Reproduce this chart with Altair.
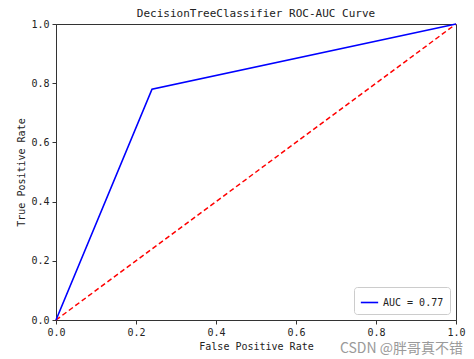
import altair as alt
import pandas as pd

fpr = [0.0, 0.24, 1.0]
tpr = [0.0, 0.78, 1.0]
auc_label = "AUC = 0.77"
diag_x = [0.0, 1.0]
diag_y = [0.0, 1.0]
ticks = [0.0, 0.2, 0.4, 0.6, 0.8, 1.0]

roc = pd.DataFrame({"fpr": fpr, "tpr": tpr, "series": [auc_label] * len(fpr), "order": range(len(fpr))})
diag = pd.DataFrame({"fpr": diag_x, "tpr": diag_y})

FONT = "DejaVu Sans Mono"

xs = alt.Scale(domain=[0, 1], nice=False)
ys = alt.Scale(domain=[0, 1], nice=False)
xax = alt.Axis(values=ticks, format=".1f", title="False Positive Rate", grid=False, labelFlush=False)
yax = alt.Axis(values=ticks, format=".1f", title="True Positive Rate", grid=False, labelFlush=False)

roc_line = alt.Chart(roc).mark_line(strokeWidth=1.6).encode(
    x=alt.X("fpr:Q", scale=xs, axis=xax),
    y=alt.Y("tpr:Q", scale=ys, axis=yax),
    order="order:Q",
    color=alt.Color("series:N", scale=alt.Scale(domain=[auc_label], range=["#0000ff"]),
                    legend=alt.Legend(title=None, orient="bottom-right", symbolType="stroke",
                                      symbolStrokeWidth=1.6, symbolSize=300,
                                      strokeColor="#cccccc", fillColor="white", padding=6,
                                      cornerRadius=3, labelFont=FONT, labelFontSize=10,
                                      labelColor="#222", offset=6)),
)

diag_line = alt.Chart(diag).mark_line(color="#ff0000", strokeDash=[5, 3], strokeWidth=1.5).encode(
    x=alt.X("fpr:Q", scale=xs),
    y=alt.Y("tpr:Q", scale=ys),
)

watermark = alt.Chart(pd.DataFrame({"t": ["CSDN @胖哥真不错"]})).mark_text(
    align="right", baseline="middle", font="Noto Sans CJK SC", fontSize=14, color="#9a9a9a"
).encode(text="t:N", x=alt.value(407), y=alt.value(325))

chart = alt.layer(diag_line, roc_line, watermark).properties(
    width=400, height=296,
    title=alt.TitleParams("DecisionTreeClassifier ROC-AUC Curve", font=FONT, fontSize=11,
                          fontWeight="normal", color="#222", offset=0),
    padding={"left": 48, "top": 16, "right": 10, "bottom": 38},
    autosize=alt.AutoSizeParams(type="none"),
).configure_view(stroke="#333", strokeWidth=1).configure_axis(
    labelFont=FONT, labelFontSize=10, labelColor="#222", titleFont=FONT, titleFontSize=10,
    titleFontWeight="normal", titleColor="#222", domainColor="#333", tickColor="#333",
    tickSize=4, labelPadding=3,
)

chart.save("out.html", embed_options={"renderer": "svg", "actions": False})
